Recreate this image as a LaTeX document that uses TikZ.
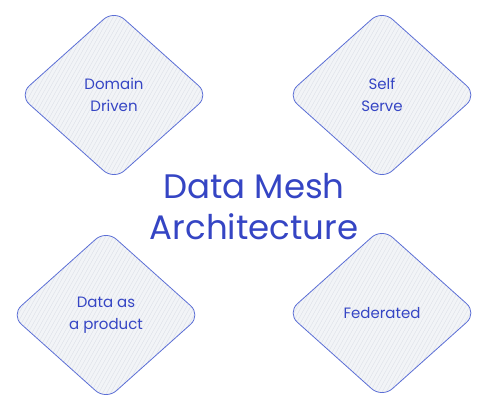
\documentclass[tikz,border=0pt]{standalone}
\usepackage{fontspec}
\setmainfont{Poppins}
\definecolor{txtblue}{HTML}{3545C4}
\definecolor{edgeblue}{HTML}{5C6FD6}
\definecolor{fillgrey}{HTML}{F2F4F7}
\definecolor{hatch}{HTML}{DDE1E8}
\tikzset{
  x=1pt, y=-1pt,
  smalltxt/.style={text=txtblue, font=\fontsize{15}{22}\selectfont, align=center},
  bigtxt/.style={text=txtblue, font=\fontsize{34}{41}\selectfont, align=center},
}
\newcommand{\mydiamond}[3]{% name, cx, cy
  \begin{scope}
    \path[clip, rounded corners=14pt] (#2,#3-85) -- (#2+95,#3) -- (#2,#3+85) -- (#2-95,#3) -- cycle;
    \fill[fillgrey] (#2-100,#3-90) rectangle (#2+100,#3+90);
    \foreach \k in {-200,-196,...,200} {
      \draw[hatch, line width=0.4pt] (#2+\k-50,#3+90) -- (#2+\k+50,#3-90);
    }
  \end{scope}
  \draw[edgeblue, line width=0.8pt, rounded corners=14pt] (#2,#3-85) -- (#2+95,#3) -- (#2,#3+85) -- (#2-95,#3) -- cycle;
  \coordinate (#1) at (#2,#3);
}
\begin{document}
\begin{tikzpicture}
\useasboundingbox (0,0) rectangle (489,411);
\fill[white] (0,0) rectangle (489,411);
\mydiamond{dd}{114}{95}
\mydiamond{ss}{382}{95}
\mydiamond{dp}{106}{315}
\mydiamond{fd}{382}{313}
\node[smalltxt] (tdd) at (dd) {Domain\\Driven};
\node[smalltxt] (tss) at (ss) {Self\\Serve};
\node[smalltxt] (tdp) at (dp) {Data as\\a product};
\node[smalltxt] (tfd) at (fd) {Federated};
\node[bigtxt] (title) at (254,207) {Data Mesh\\Architecture};
\end{tikzpicture}
\end{document}
